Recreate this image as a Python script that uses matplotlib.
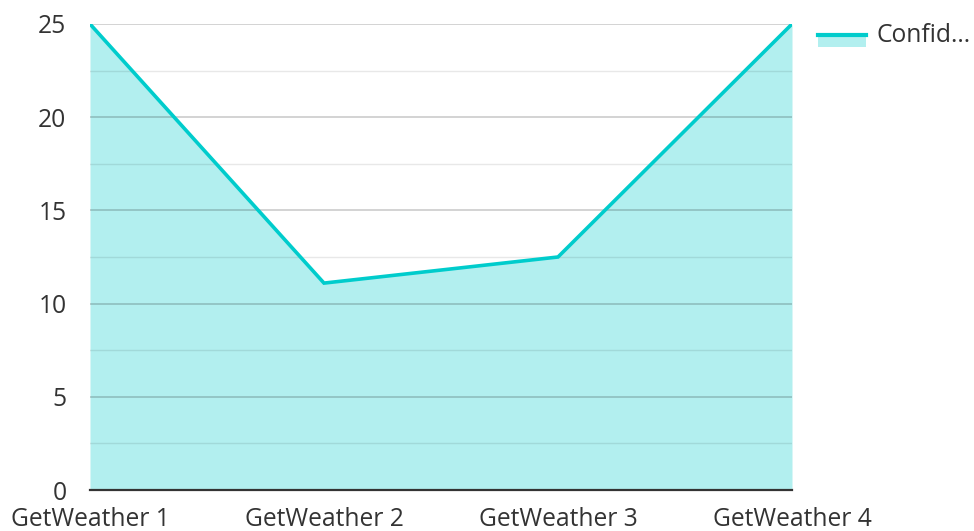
import numpy as np
import matplotlib
matplotlib.use("Agg")
from matplotlib import pyplot as plt
from matplotlib.lines import Line2D
from matplotlib.patches import Rectangle

plt.rcParams['font.family'] = ['Open Sans', 'DejaVu Sans']

# data
categories = ["GetWeather 1", "GetWeather 2", "GetWeather 3", "GetWeather 4"]
confidence = [25, 11.1, 12.5, 25]
series_name = "Confid..."

LINE = "#00cccc"
FILL = "#b2efef"
FS = 17.7

W, H = 974, 531
fig = plt.figure(figsize=(W / 100, H / 100), dpi=100)
ax = fig.add_axes([90 / W, 1 - 490 / H, (792 - 90) / W, (490 - 24) / H])

x = np.arange(len(categories))
ax.fill_between(x, 0, confidence, color=FILL, lw=0, zorder=1)
ax.plot(x, confidence, color=LINE, lw=2.6, zorder=3, solid_joinstyle="miter")

ax.set_xlim(0, len(categories) - 1)
ax.set_ylim(0, 25)
ax.set_yticks([0, 5, 10, 15, 20, 25])
ax.set_yticks(np.arange(2.5, 25, 5), minor=True)
ax.set_xticks(x)
ax.set_xticklabels(categories)

ax.grid(axis="y", which="major", color="#000000", alpha=0.2, lw=1.2, zorder=2)
ax.grid(axis="y", which="minor", color="#000000", alpha=0.09, lw=1.0, zorder=2)
ax.grid(axis="x", visible=False)

for s in ["top", "right", "left"]:
    ax.spines[s].set_visible(False)
ax.spines["bottom"].set_color("#333333")
ax.spines["bottom"].set_linewidth(1.6)
ax.spines["bottom"].set_zorder(4)

ax.tick_params(axis="both", which="both", length=0, labelsize=FS, colors="#333333")
ax.tick_params(axis="y", pad=17)
ax.tick_params(axis="x", pad=12.5)
ax.set_axisbelow(False)

# legend drawn by hand: line swatch over a filled box
fig.add_artist(Rectangle((818 / W, 1 - 47 / H), 48 / W, 12 / H, transform=fig.transFigure,
                         color=FILL, lw=0))
fig.add_artist(Line2D([818 / W, 866 / W], [1 - 35 / H, 1 - 35 / H], transform=fig.transFigure,
                      color=LINE, lw=3))
fig.text(877 / W, 1 - 35 / H, series_name, fontsize=FS, color="#333333", va="center", ha="left")

fig.savefig("out.png", dpi=100)
